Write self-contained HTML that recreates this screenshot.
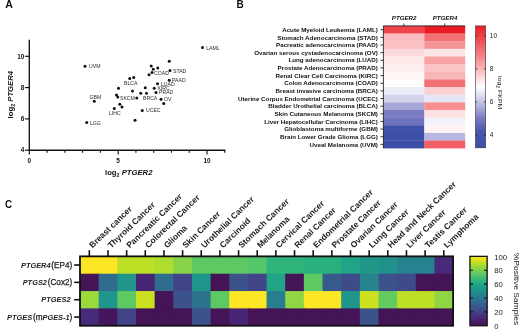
<!DOCTYPE html>
<html lang="en"><head><meta charset="utf-8"><title>Figure</title>
<style>html,body{margin:0;padding:0;background:#fff;}body{width:520px;height:329px;overflow:hidden;}svg{display:block;}</style>
</head><body>
<svg width="520" height="329" viewBox="0 0 520 329" font-family="Liberation Sans, Arial, sans-serif">
<rect width="520" height="329" fill="#fff"/>
<text transform="translate(5.2,7.9) scale(0.9,1)" font-size="11.8" font-weight="bold" fill="#111">A</text>
<text transform="translate(236.6,7.9) scale(0.85,1)" font-size="11.8" font-weight="bold" fill="#111">B</text>
<text transform="translate(5.0,207.9) scale(0.83,1)" font-size="11.8" font-weight="bold" fill="#111">C</text>
<g stroke="#111" stroke-width="1.35" fill="none">
<path d="M29.3 39.87V150.2H225.27"/>
</g>
<g stroke="#111" stroke-width="1.15">
<path d="M29.30 150.2v4.3"/>
<path d="M47.07 150.2v2.5"/>
<path d="M64.84 150.2v2.5"/>
<path d="M82.61 150.2v2.5"/>
<path d="M100.38 150.2v2.5"/>
<path d="M118.15 150.2v4.3"/>
<path d="M135.92 150.2v2.5"/>
<path d="M153.69 150.2v2.5"/>
<path d="M171.46 150.2v2.5"/>
<path d="M189.23 150.2v2.5"/>
<path d="M207.00 150.2v4.3"/>
<path d="M224.77 150.2v2.5"/>
<path d="M29.3 150.20h-4.4"/>
<path d="M29.3 118.90h-4.4"/>
<path d="M29.3 87.60h-4.4"/>
<path d="M29.3 56.30h-4.4"/>
</g>
<g font-size="6.4" font-weight="bold" fill="#111" text-anchor="middle">
<text x="29.30" y="163.1">0</text>
<text x="118.15" y="163.1">5</text>
<text x="207.00" y="163.1">10</text>
</g>
<g font-size="6.4" font-weight="bold" fill="#111" text-anchor="end">
<text x="24.3" y="152.45">4</text>
<text x="24.3" y="121.15">6</text>
<text x="24.3" y="89.85">8</text>
<text x="24.3" y="58.55">10</text>
</g>
<text x="105" y="175.2" font-size="7.7" font-weight="bold" fill="#111">log<tspan font-size="5.4" dy="1.9">2</tspan><tspan dy="-1.9"> </tspan><tspan font-style="italic">PTGER2</tspan></text>
<text transform="translate(12.8,118.4) rotate(-90)" font-size="7.7" font-weight="bold" fill="#111">log<tspan font-size="5.4" dy="1.9">2</tspan><tspan dy="-1.9"> </tspan><tspan font-style="italic">PTGER4</tspan></text>
<g fill="#111">
<circle cx="202.5" cy="47.5" r="1.5"/>
<circle cx="169.25" cy="61.25" r="1.5"/>
<circle cx="151.25" cy="66" r="1.5"/>
<circle cx="153.25" cy="69.25" r="1.5"/>
<circle cx="157.75" cy="68" r="1.5"/>
<circle cx="152" cy="72.5" r="1.5"/>
<circle cx="149" cy="74.75" r="1.5"/>
<circle cx="170" cy="70.5" r="1.5"/>
<circle cx="169.25" cy="80.25" r="1.5"/>
<circle cx="129.75" cy="78.5" r="1.5"/>
<circle cx="133.75" cy="77.5" r="1.5"/>
<circle cx="157.5" cy="83.75" r="1.5"/>
<circle cx="118.5" cy="88.25" r="1.5"/>
<circle cx="145.25" cy="87.75" r="1.5"/>
<circle cx="154.25" cy="88.25" r="1.5"/>
<circle cx="132.5" cy="91.1" r="1.5"/>
<circle cx="156" cy="92.4" r="1.5"/>
<circle cx="140.75" cy="93.25" r="1.5"/>
<circle cx="146.5" cy="93.25" r="1.5"/>
<circle cx="116.5" cy="95" r="1.5"/>
<circle cx="117.75" cy="96.9" r="1.5"/>
<circle cx="136.75" cy="98.1" r="1.5"/>
<circle cx="161" cy="99.25" r="1.5"/>
<circle cx="163.75" cy="103.6" r="1.5"/>
<circle cx="119.75" cy="104.25" r="1.5"/>
<circle cx="122" cy="107.1" r="1.5"/>
<circle cx="142.25" cy="110.4" r="1.5"/>
<circle cx="114.25" cy="108.5" r="1.5"/>
<circle cx="135" cy="120.25" r="1.5"/>
<circle cx="85" cy="66.25" r="1.5"/>
<circle cx="94.25" cy="101.25" r="1.5"/>
<circle cx="86.75" cy="122.5" r="1.5"/>
</g>
<g font-size="5.15" fill="#2a2a2a">
<text x="206.2" y="49.60">LAML</text>
<text x="173" y="72.60">STAD</text>
<text x="154" y="75.10">COAD</text>
<text x="172" y="82.10">PAAD</text>
<text x="124" y="85.10">BLCA</text>
<text x="161" y="86.10">LUAD</text>
<text x="157.5" y="90.10">KIRC</text>
<text x="159" y="94.10">PRAD</text>
<text x="120" y="100.10">SKCM</text>
<text x="143" y="99.60">BRCA</text>
<text x="164" y="101.10">OV</text>
<text x="146" y="112.10">UCEC</text>
<text x="109" y="115.10">LIHC</text>
<text x="89" y="68.10">UVM</text>
<text x="89.5" y="99.10">GBM</text>
<text x="90" y="124.85">LGG</text>
</g>
<rect x="383.4" y="25.90" width="41.10" height="7.84" fill="#f0434a"/>
<rect x="424.30" y="25.90" width="40.90" height="7.84" fill="#ed1c24"/>
<rect x="383.4" y="33.54" width="41.10" height="7.84" fill="#fabdbf"/>
<rect x="424.30" y="33.54" width="40.90" height="7.84" fill="#f37075"/>
<rect x="383.4" y="41.19" width="41.10" height="7.84" fill="#fac0c2"/>
<rect x="424.30" y="41.19" width="40.90" height="7.84" fill="#f69598"/>
<rect x="383.4" y="48.83" width="41.10" height="7.84" fill="#fcdadc"/>
<rect x="424.30" y="48.83" width="40.90" height="7.84" fill="#fde4e5"/>
<rect x="383.4" y="56.47" width="41.10" height="7.84" fill="#fde8e8"/>
<rect x="424.30" y="56.47" width="40.90" height="7.84" fill="#f7a2a5"/>
<rect x="383.4" y="64.12" width="41.10" height="7.84" fill="#feeeef"/>
<rect x="424.30" y="64.12" width="40.90" height="7.84" fill="#fac3c5"/>
<rect x="383.4" y="71.76" width="41.10" height="7.84" fill="#fef5f5"/>
<rect x="424.30" y="71.76" width="40.90" height="7.84" fill="#f9b6b8"/>
<rect x="383.4" y="79.41" width="41.10" height="7.84" fill="#fffcfc"/>
<rect x="424.30" y="79.41" width="40.90" height="7.84" fill="#f37075"/>
<rect x="383.4" y="87.05" width="41.10" height="7.84" fill="#ececf7"/>
<rect x="424.30" y="87.05" width="40.90" height="7.84" fill="#fbd0d2"/>
<rect x="383.4" y="94.69" width="41.10" height="7.84" fill="#d3d3ec"/>
<rect x="424.30" y="94.69" width="40.90" height="7.84" fill="#e6e6f4"/>
<rect x="383.4" y="102.34" width="41.10" height="7.84" fill="#a8a8d8"/>
<rect x="424.30" y="102.34" width="40.90" height="7.84" fill="#f68e92"/>
<rect x="383.4" y="109.98" width="41.10" height="7.84" fill="#7c7cc2"/>
<rect x="424.30" y="109.98" width="40.90" height="7.84" fill="#fde1e2"/>
<rect x="383.4" y="117.62" width="41.10" height="7.84" fill="#6f72bd"/>
<rect x="424.30" y="117.62" width="40.90" height="7.84" fill="#f2f2fa"/>
<rect x="383.4" y="125.27" width="41.10" height="7.84" fill="#4051a9"/>
<rect x="424.30" y="125.27" width="40.90" height="7.84" fill="#fef2f2"/>
<rect x="383.4" y="132.91" width="41.10" height="7.84" fill="#3c50a8"/>
<rect x="424.30" y="132.91" width="40.90" height="7.84" fill="#b7b7e0"/>
<rect x="383.4" y="140.56" width="41.10" height="7.84" fill="#3b4fa7"/>
<rect x="424.30" y="140.56" width="40.90" height="7.84" fill="#f25f65"/>
<path d="M383.4 148.2V25.9H465.2" stroke="#111" stroke-width="0.8" fill="none"/>
<g stroke="#111" stroke-width="0.8">
<path d="M383.4 29.72h-3"/>
<path d="M383.4 37.37h-3"/>
<path d="M383.4 45.01h-3"/>
<path d="M383.4 52.65h-3"/>
<path d="M383.4 60.30h-3"/>
<path d="M383.4 67.94h-3"/>
<path d="M383.4 75.58h-3"/>
<path d="M383.4 83.23h-3"/>
<path d="M383.4 90.87h-3"/>
<path d="M383.4 98.52h-3"/>
<path d="M383.4 106.16h-3"/>
<path d="M383.4 113.80h-3"/>
<path d="M383.4 121.45h-3"/>
<path d="M383.4 129.09h-3"/>
<path d="M383.4 136.73h-3"/>
<path d="M383.4 144.38h-3"/>
<path d="M403.85 25.9v-2.5"/>
<path d="M444.75 25.9v-2.5"/>
</g>
<g font-size="6.22" font-weight="bold" fill="#111" text-anchor="end">
<text x="377.9" y="31.87">Acute Myeloid Leukemia (LAML)</text>
<text x="377.9" y="39.52">Stomach Adenocarcinoma (STAD)</text>
<text x="377.9" y="47.16">Pacreatic adenocarcinoma (PAAD)</text>
<text x="377.9" y="54.80">Ovarian serous cystadenocarcinoma (OV)</text>
<text x="377.9" y="62.45">Lung adenocarcinoma (LUAD)</text>
<text x="377.9" y="70.09">Prostate Adenocarcinoma (PRAD)</text>
<text x="377.9" y="77.73">Renal Clear Cell Carcinoma (KIRC)</text>
<text x="377.9" y="85.38">Colon Adenocarcinoma (COAD)</text>
<text x="377.9" y="93.02">Breast invasive carcinoma (BRCA)</text>
<text x="377.9" y="100.67">Uterine Corpus Endometrial Carcinoma (UCEC)</text>
<text x="377.9" y="108.31">Bladder Urothelial carcinoma (BLCA)</text>
<text x="377.9" y="115.95">Skin Cutaneous Melanoma (SKCM)</text>
<text x="377.9" y="123.60">Liver Hepatocellular Carcinoma (LIHC)</text>
<text x="377.9" y="131.24">Glioblastoma multiforme (GBM)</text>
<text x="377.9" y="138.88">Brain Lower Grade Glioma (LGG)</text>
<text x="377.9" y="146.53">Uveal Melanoma (UVM)</text>
</g>
<g font-size="6.15" font-weight="bold" font-style="italic" fill="#111" text-anchor="middle">
<text x="404.15" y="20.3">PTGER2</text><text x="445.05" y="20.3">PTGER4</text>
</g>
<defs><linearGradient id="gb" x1="0" y1="0" x2="0" y2="1"><stop offset="0.000" stop-color="#ed1c24"/><stop offset="0.250" stop-color="#f58488"/><stop offset="0.500" stop-color="#ffffff"/><stop offset="0.622" stop-color="#c6c6e7"/><stop offset="0.757" stop-color="#7c7cc2"/><stop offset="0.865" stop-color="#4a56ae"/><stop offset="1.000" stop-color="#3b4fa7"/></linearGradient>
<linearGradient id="gv" x1="0" y1="0" x2="0" y2="1"><stop offset="0.00" stop-color="#fde725"/><stop offset="0.05" stop-color="#dfe318"/><stop offset="0.10" stop-color="#bddf26"/><stop offset="0.15" stop-color="#9bd93c"/><stop offset="0.20" stop-color="#7ad151"/><stop offset="0.25" stop-color="#5ec962"/><stop offset="0.30" stop-color="#44bf70"/><stop offset="0.35" stop-color="#2fb47c"/><stop offset="0.40" stop-color="#22a884"/><stop offset="0.45" stop-color="#1e9c89"/><stop offset="0.50" stop-color="#21918c"/><stop offset="0.55" stop-color="#25848e"/><stop offset="0.60" stop-color="#2a788e"/><stop offset="0.65" stop-color="#2f6c8e"/><stop offset="0.70" stop-color="#355f8d"/><stop offset="0.75" stop-color="#3b528b"/><stop offset="0.80" stop-color="#414487"/><stop offset="0.85" stop-color="#463480"/><stop offset="0.90" stop-color="#482475"/><stop offset="0.95" stop-color="#471a66"/><stop offset="1.00" stop-color="#451457"/></linearGradient></defs>
<rect x="475.5" y="25.9" width="10.2" height="121.90" fill="url(#gb)" stroke="#333" stroke-width="0.6"/>
<g stroke="#111" stroke-width="0.7">
<path d="M485.7 134.98h-1.8M475.5 134.98h1.8"/>
<path d="M485.7 101.92h-1.8M475.5 101.92h1.8"/>
<path d="M485.7 68.87h-1.8M475.5 68.87h1.8"/>
<path d="M485.7 35.82h-1.8M475.5 35.82h1.8"/>
</g>
<g font-size="6.5" fill="#222">
<text x="489.8" y="137.28">4</text>
<text x="489.8" y="104.22">6</text>
<text x="489.8" y="71.17">8</text>
<text x="489.8" y="38.12">10</text>
</g>
<text transform="translate(497.7,76) rotate(90) scale(1.12,1)" font-size="6.2" fill="#222">log<tspan font-size="4.6" dy="1.6">2</tspan><tspan dy="-1.6"> FKPM</tspan></text>
<rect x="80.00" y="256.35" width="19.66" height="18.35" fill="#fde725"/>
<rect x="98.66" y="256.35" width="19.66" height="18.35" fill="#fde725"/>
<rect x="117.31" y="256.35" width="19.66" height="18.35" fill="#bddf26"/>
<rect x="135.97" y="256.35" width="19.66" height="18.35" fill="#bddf26"/>
<rect x="154.62" y="256.35" width="19.66" height="18.35" fill="#afdd2f"/>
<rect x="173.28" y="256.35" width="19.66" height="18.35" fill="#87d449"/>
<rect x="191.93" y="256.35" width="19.66" height="18.35" fill="#5ec962"/>
<rect x="210.59" y="256.35" width="19.66" height="18.35" fill="#5ec962"/>
<rect x="229.24" y="256.35" width="19.66" height="18.35" fill="#5ec962"/>
<rect x="247.90" y="256.35" width="19.66" height="18.35" fill="#54c568"/>
<rect x="266.55" y="256.35" width="19.66" height="18.35" fill="#2fb47c"/>
<rect x="285.21" y="256.35" width="19.66" height="18.35" fill="#2fb47c"/>
<rect x="303.86" y="256.35" width="19.66" height="18.35" fill="#2aaf7f"/>
<rect x="322.51" y="256.35" width="19.66" height="18.35" fill="#2aaf7f"/>
<rect x="341.17" y="256.35" width="19.66" height="18.35" fill="#20a386"/>
<rect x="359.83" y="256.35" width="19.66" height="18.35" fill="#1f988a"/>
<rect x="378.48" y="256.35" width="19.66" height="18.35" fill="#21918c"/>
<rect x="397.13" y="256.35" width="19.66" height="18.35" fill="#26828e"/>
<rect x="415.79" y="256.35" width="19.66" height="18.35" fill="#26828e"/>
<rect x="434.45" y="256.35" width="18.66" height="18.35" fill="#472a79"/>
<rect x="80.00" y="273.70" width="19.66" height="18.35" fill="#451457"/>
<rect x="98.66" y="273.70" width="19.66" height="18.35" fill="#2f6c8e"/>
<rect x="117.31" y="273.70" width="19.66" height="18.35" fill="#20958b"/>
<rect x="135.97" y="273.70" width="19.66" height="18.35" fill="#482475"/>
<rect x="154.62" y="273.70" width="19.66" height="18.35" fill="#2f6c8e"/>
<rect x="173.28" y="273.70" width="19.66" height="18.35" fill="#414487"/>
<rect x="191.93" y="273.70" width="19.66" height="18.35" fill="#20958b"/>
<rect x="210.59" y="273.70" width="19.66" height="18.35" fill="#451457"/>
<rect x="229.24" y="273.70" width="19.66" height="18.35" fill="#3b528b"/>
<rect x="247.90" y="273.70" width="19.66" height="18.35" fill="#414487"/>
<rect x="266.55" y="273.70" width="19.66" height="18.35" fill="#20a386"/>
<rect x="285.21" y="273.70" width="19.66" height="18.35" fill="#451457"/>
<rect x="303.86" y="273.70" width="19.66" height="18.35" fill="#5ec962"/>
<rect x="322.51" y="273.70" width="19.66" height="18.35" fill="#375a8c"/>
<rect x="341.17" y="273.70" width="19.66" height="18.35" fill="#3d4c89"/>
<rect x="359.83" y="273.70" width="19.66" height="18.35" fill="#25848e"/>
<rect x="378.48" y="273.70" width="19.66" height="18.35" fill="#3b528b"/>
<rect x="397.13" y="273.70" width="19.66" height="18.35" fill="#3f4a89"/>
<rect x="415.79" y="273.70" width="19.66" height="18.35" fill="#451457"/>
<rect x="434.45" y="273.70" width="18.66" height="18.35" fill="#451457"/>
<rect x="80.00" y="291.05" width="19.66" height="18.35" fill="#9bd93c"/>
<rect x="98.66" y="291.05" width="19.66" height="18.35" fill="#20958b"/>
<rect x="117.31" y="291.05" width="19.66" height="18.35" fill="#5ec962"/>
<rect x="135.97" y="291.05" width="19.66" height="18.35" fill="#cbe120"/>
<rect x="154.62" y="291.05" width="19.66" height="18.35" fill="#451457"/>
<rect x="173.28" y="291.05" width="19.66" height="18.35" fill="#3b528b"/>
<rect x="191.93" y="291.05" width="19.66" height="18.35" fill="#2c738e"/>
<rect x="210.59" y="291.05" width="19.66" height="18.35" fill="#5ec962"/>
<rect x="229.24" y="291.05" width="19.66" height="18.35" fill="#fde725"/>
<rect x="247.90" y="291.05" width="19.66" height="18.35" fill="#fde725"/>
<rect x="266.55" y="291.05" width="19.66" height="18.35" fill="#287d8e"/>
<rect x="285.21" y="291.05" width="19.66" height="18.35" fill="#8ed644"/>
<rect x="303.86" y="291.05" width="19.66" height="18.35" fill="#fde725"/>
<rect x="322.51" y="291.05" width="19.66" height="18.35" fill="#fde725"/>
<rect x="341.17" y="291.05" width="19.66" height="18.35" fill="#20958b"/>
<rect x="359.83" y="291.05" width="19.66" height="18.35" fill="#cbe120"/>
<rect x="378.48" y="291.05" width="19.66" height="18.35" fill="#64cb5f"/>
<rect x="397.13" y="291.05" width="19.66" height="18.35" fill="#bddf26"/>
<rect x="415.79" y="291.05" width="19.66" height="18.35" fill="#bddf26"/>
<rect x="434.45" y="291.05" width="18.66" height="18.35" fill="#8ed644"/>
<rect x="80.00" y="308.40" width="19.66" height="17.35" fill="#472a79"/>
<rect x="98.66" y="308.40" width="19.66" height="17.35" fill="#46165d"/>
<rect x="117.31" y="308.40" width="19.66" height="17.35" fill="#414487"/>
<rect x="135.97" y="308.40" width="19.66" height="17.35" fill="#451457"/>
<rect x="154.62" y="308.40" width="19.66" height="17.35" fill="#451457"/>
<rect x="173.28" y="308.40" width="19.66" height="17.35" fill="#451457"/>
<rect x="191.93" y="308.40" width="19.66" height="17.35" fill="#3b528b"/>
<rect x="210.59" y="308.40" width="19.66" height="17.35" fill="#451457"/>
<rect x="229.24" y="308.40" width="19.66" height="17.35" fill="#482475"/>
<rect x="247.90" y="308.40" width="19.66" height="17.35" fill="#451457"/>
<rect x="266.55" y="308.40" width="19.66" height="17.35" fill="#451457"/>
<rect x="285.21" y="308.40" width="19.66" height="17.35" fill="#451457"/>
<rect x="303.86" y="308.40" width="19.66" height="17.35" fill="#451457"/>
<rect x="322.51" y="308.40" width="19.66" height="17.35" fill="#451457"/>
<rect x="341.17" y="308.40" width="19.66" height="17.35" fill="#451457"/>
<rect x="359.83" y="308.40" width="19.66" height="17.35" fill="#3b528b"/>
<rect x="378.48" y="308.40" width="19.66" height="17.35" fill="#451457"/>
<rect x="397.13" y="308.40" width="19.66" height="17.35" fill="#451457"/>
<rect x="415.79" y="308.40" width="19.66" height="17.35" fill="#451457"/>
<rect x="434.45" y="308.40" width="18.66" height="17.35" fill="#451457"/>
<rect x="80.0" y="256.35" width="373.10" height="69.40" stroke="#111" stroke-width="1.8" fill="none"/>
<g stroke="#111" stroke-width="1.6">
<path d="M89.33 256.35V250.2"/>
<path d="M107.98 256.35V250.2"/>
<path d="M126.64 256.35V250.2"/>
<path d="M145.29 256.35V250.2"/>
<path d="M163.95 256.35V250.2"/>
<path d="M182.60 256.35V250.2"/>
<path d="M201.26 256.35V250.2"/>
<path d="M219.91 256.35V250.2"/>
<path d="M238.57 256.35V250.2"/>
<path d="M257.22 256.35V250.2"/>
<path d="M275.88 256.35V250.2"/>
<path d="M294.53 256.35V250.2"/>
<path d="M313.19 256.35V250.2"/>
<path d="M331.84 256.35V250.2"/>
<path d="M350.50 256.35V250.2"/>
<path d="M369.15 256.35V250.2"/>
<path d="M387.81 256.35V250.2"/>
<path d="M406.46 256.35V250.2"/>
<path d="M425.12 256.35V250.2"/>
<path d="M443.77 256.35V250.2"/>
<path d="M80.0 265.03H74.2"/>
<path d="M80.0 282.38H74.2"/>
<path d="M80.0 299.73H74.2"/>
<path d="M80.0 317.07H74.2"/>
</g>
<g font-size="8.45" font-weight="bold" fill="#222">
<text transform="translate(92.53,248.6) rotate(-44.2)">Breast cancer</text>
<text transform="translate(111.18,248.6) rotate(-44.2)">Thyroid Cancer</text>
<text transform="translate(129.84,248.6) rotate(-44.2)">Pancreatic Cancer</text>
<text transform="translate(148.49,248.6) rotate(-44.2)">Colorectal Cancer</text>
<text transform="translate(167.15,248.6) rotate(-44.2)">Glioma</text>
<text transform="translate(185.80,248.6) rotate(-44.2)">Skin Cancer</text>
<text transform="translate(204.46,248.6) rotate(-44.2)">Urothelial Cancer</text>
<text transform="translate(223.11,248.6) rotate(-44.2)">Carcinoid</text>
<text transform="translate(241.77,248.6) rotate(-44.2)">Stomach Cancer</text>
<text transform="translate(260.42,248.6) rotate(-44.2)">Melanoma</text>
<text transform="translate(279.08,248.6) rotate(-44.2)">Cervical Cancer</text>
<text transform="translate(297.73,248.6) rotate(-44.2)">Renal Cancer</text>
<text transform="translate(316.39,248.6) rotate(-44.2)">Endometrial Cancer</text>
<text transform="translate(335.04,248.6) rotate(-44.2)">Prostate Cancer</text>
<text transform="translate(353.70,248.6) rotate(-44.2)">Ovarian Cancer</text>
<text transform="translate(372.35,248.6) rotate(-44.2)">Lung Cancer</text>
<text transform="translate(391.01,248.6) rotate(-44.2)">Head and Neck Cancer</text>
<text transform="translate(409.66,248.6) rotate(-44.2)">Liver Cancer</text>
<text transform="translate(428.32,248.6) rotate(-44.2)">Testis Cancer</text>
<text transform="translate(446.97,248.6) rotate(-44.2)">Lymphoma</text>
</g>
<text x="72.3" y="267.83" text-anchor="end" fill="#222"><tspan font-size="7.4" font-weight="bold" font-style="italic">PTGER4</tspan><tspan font-size="8.2" dx="0.8" stroke="#222" stroke-width="0.25">(EP4)</tspan></text>
<text x="72.3" y="285.18" text-anchor="end" fill="#222"><tspan font-size="7.4" font-weight="bold" font-style="italic">PTGS2</tspan><tspan font-size="8.2" dx="0.8" stroke="#222" stroke-width="0.25">(Cox2)</tspan></text>
<text x="70.5" y="302.43" text-anchor="end" fill="#222"><tspan font-size="7.4" font-weight="bold" font-style="italic">PTGES2</tspan></text>
<text x="72.3" y="319.88" text-anchor="end" fill="#222"><tspan font-size="7.4" font-weight="bold" font-style="italic">PTGES</tspan><tspan font-size="8.2" dx="0.8" stroke="#222" stroke-width="0.25">(m<tspan font-style="italic" font-weight="bold" font-size="7.4" stroke="none">PGES-1</tspan>)</tspan></text>
<rect x="469.95" y="256.35" width="17.2" height="69.40" fill="url(#gv)" stroke="#111" stroke-width="1.3"/>
<g stroke="#111" stroke-width="1.2">
<path d="M487.15 311.87h-3.1M469.95 311.87h3.1"/>
<path d="M487.15 297.99h-3.1M469.95 297.99h3.1"/>
<path d="M487.15 284.11h-3.1M469.95 284.11h3.1"/>
<path d="M487.15 270.23h-3.1M469.95 270.23h3.1"/>
</g>
<g font-size="7.7" fill="#1a1a1a">
<text x="494.2" y="328.95">0</text>
<text x="494.2" y="315.07">20</text>
<text x="494.2" y="301.19">40</text>
<text x="494.2" y="287.31">60</text>
<text x="494.2" y="273.43">80</text>
<text x="494.2" y="259.55">100</text>
</g>
<text transform="translate(513.5,252.8) rotate(90) scale(1.1,1)" font-size="7.7" fill="#1a1a1a">%Positive Samples</text>
</svg>
</body></html>
